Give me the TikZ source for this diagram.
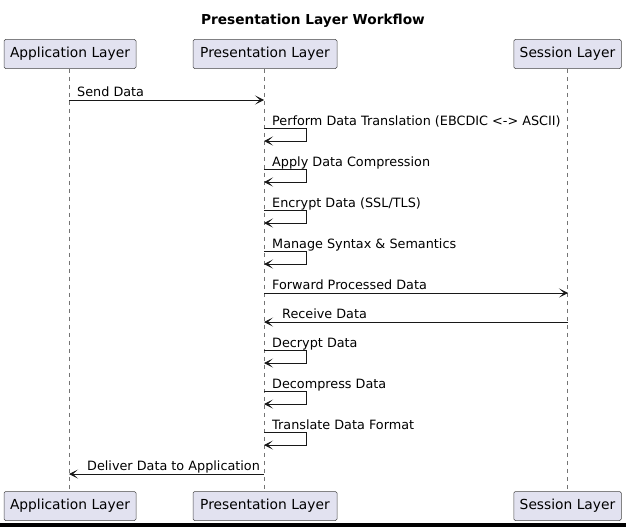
\documentclass[tikz,border=0pt]{standalone}
\usepackage{fontspec}
\setmainfont{DejaVu Sans}
\usetikzlibrary{arrows.meta, calc}

\definecolor{partfill}{HTML}{E2E2F0}
\definecolor{partline}{HTML}{181818}

\tikzset{
	layer/.style={draw=partline!80, fill=partfill, rounded corners=1.5pt, line width=0.5pt,
		minimum height=29pt, inner xsep=6pt, font=\fontsize{13.8}{16}\selectfont},
	lifeline/.style={draw=partline!60, dashed, dash pattern=on 4pt off 4pt, line width=0.5pt},
	msg/.style={draw=partline, line width=0.8pt, -{Stealth[length=9pt, width=9pt, inset=5pt]}},
	msgtext/.style={font=\fontsize{12.8}{15}\selectfont, anchor=base west, inner sep=0pt},
}

\begin{document}
\begin{tikzpicture}[x=1pt, y=-1pt]
		\useasboundingbox (0,0) rectangle (626,527);
		\fill[black] (0,523) rectangle (626,527);

		\node[font=\bfseries\fontsize{13.7}{16}\selectfont] (title) at (313,21) {Presentation Layer Workflow};

		\node[layer, minimum width=132pt] (app) at (70,54) {Application Layer};
		\node[layer, minimum width=144pt] (pres) at (265,54) {Presentation Layer};
		\node[layer, minimum width=105pt] (sess) at (567.5,54) {Session Layer};
		\node[layer, minimum width=132pt] (appb) at (70,506) {Application Layer};
		\node[layer, minimum width=144pt] (presb) at (265,506) {Presentation Layer};
		\node[layer, minimum width=105pt] (sessb) at (567.5,506) {Session Layer};

		\draw[lifeline] ([xshift=-1pt]app.south) -- ([xshift=-1pt]appb.north);
		\draw[lifeline] ([xshift=-1pt]pres.south) -- ([xshift=-1pt]presb.north);
		\draw[lifeline] (sess.south) -- (sessb.north);

		\coordinate (a1) at (69,100);
		\coordinate (p1) at (264,100);
		\draw[msg] (a1) -- (p1);
		\node[msgtext] (l1) at (77,96) {Send Data};

		\foreach \y/\txt [count=\i] in {128/{Perform Data Translation (EBCDIC <-> ASCII)},
				169/{Apply Data Compression}, 210/{Encrypt Data (SSL/TLS)},
				251/{Manage Syntax \& Semantics}, 350/{Decrypt Data},
				391/{Decompress Data}, 432/{Translate Data Format}} {
			\coordinate (self\i) at (264,\y);
			\draw[msg] (self\i) -- ++(42,0) -- ++(0,13) -- ++(-42,0);
			\node[msgtext] (selftext\i) at ($(self\i) + (8,-3)$) {\txt};
		}

		\coordinate (p2) at (264,293);
		\coordinate (s2) at (568,293);
		\draw[msg] (p2) -- (s2);
		\node[msgtext] (l2) at ($(p2) + (8,-4)$) {Forward Processed Data};

		\coordinate (s3) at (568,322);
		\coordinate (p3) at (264,322);
		\draw[msg] (s3) -- (p3);
		\node[msgtext] (l3) at ($(p3) + (18,-4)$) {Receive Data};

		\coordinate (p4) at (264,474);
		\coordinate (a4) at (69,474);
		\draw[msg] (p4) -- (a4);
		\node[msgtext] (l4) at ($(a4) + (18,-4)$) {Deliver Data to Application};
	\end{tikzpicture}
\end{document}
